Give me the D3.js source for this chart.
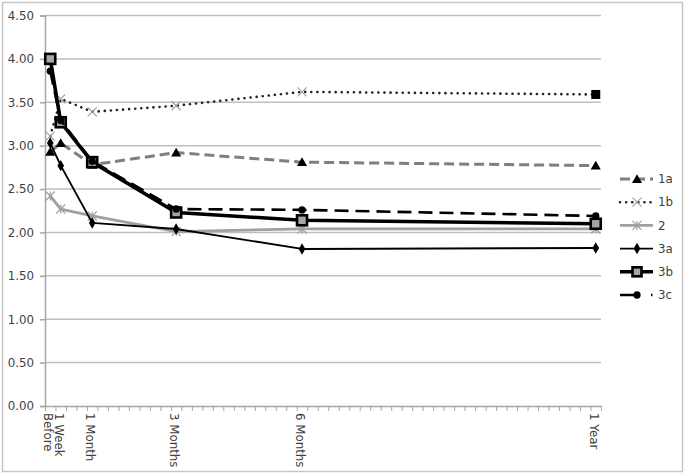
<!DOCTYPE html>
<html><head><meta charset="utf-8">
<script src="https://cdn.jsdelivr.net/npm/d3@7"></script>
<style>body{margin:0;background:#fff}svg{display:block}text{font-family:"DejaVu Sans",sans-serif;font-size:11.8px;fill:#404040}</style>
</head><body>
<svg id="c" width="685" height="474"></svg>
<script>
const categories = ["Before","1 Week","1 Month","3 Months","6 Months","1 Year"];
const weeks = [0, 1, 4, 12, 24, 52];
const s1a = [2.93, 3.03, 2.78, 2.92, 2.81, 2.77];
const s1b = [3.11, 3.54, 3.39, 3.46, 3.62, 3.59];
const s2  = [2.42, 2.27, 2.19, 2.01, 2.04, 2.04];
const s3a = [3.03, 2.77, 2.11, 2.04, 1.81, 1.82];
const s3b = [4.00, 3.27, 2.81, 2.23, 2.14, 2.10];
const s3c = [3.86, 3.29, 2.82, 2.27, 2.26, 2.19];
const seriesNames = ["1a","1b","2","3a","3b","3c"];
const yTicks = [0,0.5,1,1.5,2,2.5,3,3.5,4,4.5];

const seriesValues = [s1a, s1b, s2, s3a, s3b, s3c];
const styles = [
  {stroke:"#7f7f7f", width:3, dash:"10,5", marker:"triangle", mfill:"#000", mstroke:"none", msize:44},
  {stroke:"#262626", width:2.6, dash:"0.1,6", cap:"round", marker:"x", mfill:"none", mstroke:"#a0a0a0", msize:9, lastMarker:"square"},
  {stroke:"#a0a0a0", width:2.8, dash:null, marker:"star", mfill:"none", mstroke:"#a0a0a0", msize:9},
  {stroke:"#000", width:1.9, dash:null, marker:"diamond", mfill:"#000", mstroke:"none", msize:38},
  {stroke:"#000", width:3.6, dash:null, marker:"square", mfill:"#a6a6a6", mstroke:"#000", msize:10},
  {stroke:"#000", width:2.6, dash:"14,7", marker:"circle", mfill:"#000", mstroke:"none", msize:42}
];

const svg = d3.select("#c");
svg.append("rect").attr("x",2.5).attr("y",2.5).attr("width",680).attr("height",469)
  .attr("fill","#fff").attr("stroke","#c6c6c6").attr("stroke-width",1.5);

const x = d3.scaleLinear().domain([-0.5, 52.5]).range([45, 601]);
const y = d3.scaleLinear().domain([0, 4.5]).range([406, 15.5]);

svg.append("g").selectAll("line").data(yTicks.filter(d=>d>0)).join("line")
  .attr("x1",x(-0.5)).attr("x2",x(52.5)).attr("y1",d=>y(d)).attr("y2",d=>y(d))
  .attr("stroke","#bfbfbf").attr("stroke-width",1.5);

const yAxis = svg.append("g").attr("transform",`translate(${x(-0.5)},0)`)
  .call(d3.axisLeft(y).tickValues(yTicks).tickFormat(d3.format(".2f")).tickSize(5).tickPadding(6));
yAxis.select(".domain").attr("stroke","#a6a6a6").attr("stroke-width",1.5);
yAxis.selectAll(".tick line").attr("stroke","#a6a6a6").attr("stroke-width",1.5);
yAxis.selectAll("text").attr("font-family",null).attr("font-size",null).attr("fill","#404040");

const weekTicks = d3.range(-0.5, 53, 1);
const xAxis = svg.append("g").attr("transform",`translate(0,${y(0)})`)
  .call(d3.axisBottom(x).tickValues(weekTicks).tickFormat("").tickSize(5).tickSizeOuter(0));
xAxis.select(".domain").attr("stroke","#a6a6a6").attr("stroke-width",1.5);
xAxis.selectAll(".tick line").attr("stroke","#a6a6a6").attr("stroke-width",1);

svg.append("g").selectAll("text").data(categories).join("text")
  .attr("transform",(d,i)=>`translate(${x(weeks[i])-2},${y(0)+7}) rotate(90)`)
  .attr("dy","0.35em").attr("text-anchor","start").text(d=>d);

function drawMarker(g, type, st, cx, cy, size){
  if(type==="triangle"){
    g.append("path").attr("d",d3.symbol(d3.symbolTriangle, size)()).attr("transform",`translate(${cx},${cy+1})`).attr("fill",st.mfill);
  } else if(type==="diamond"){
    g.append("path").attr("d",d3.symbol(d3.symbolDiamond, size)()).attr("transform",`translate(${cx},${cy})`).attr("fill",st.mfill);
  } else if(type==="circle"){
    g.append("path").attr("d",d3.symbol(d3.symbolCircle, size)()).attr("transform",`translate(${cx},${cy})`).attr("fill",st.mfill);
  } else if(type==="x" || type==="star"){
    const h = size/2;
    let p = `M${cx-h},${cy-h}L${cx+h},${cy+h}M${cx-h},${cy+h}L${cx+h},${cy-h}`;
    if(type==="star") p += `M${cx},${cy-h}L${cx},${cy+h}`;
    g.append("path").attr("d",p).attr("stroke",st.mstroke).attr("stroke-width",1.2).attr("fill","none");
  } else if(type==="square"){
    if(st.marker==="square"){
      g.append("rect").attr("x",cx-size/2).attr("y",cy-size/2).attr("width",size).attr("height",size)
        .attr("fill",st.mfill).attr("stroke",st.mstroke).attr("stroke-width",2.6);
    } else {
      g.append("rect").attr("x",cx-4.5).attr("y",cy-4.5).attr("width",9).attr("height",9).attr("fill","#000");
    }
  }
}

const line = d3.line().x(d=>x(d[0])).y(d=>y(d[1]));
seriesValues.forEach((vals,si)=>{
  const st = styles[si];
  const g = svg.append("g");
  const pts = vals.map((v,i)=>[weeks[i], v]);
  g.append("path").attr("d",line(pts)).attr("fill","none").attr("stroke",st.stroke)
    .attr("stroke-width",st.width).attr("stroke-dasharray",st.dash)
    .attr("stroke-linecap",st.cap||"butt").attr("stroke-linejoin","round");
  pts.forEach((p,i)=>{
    const last = i===pts.length-1 && st.lastMarker;
    drawMarker(g, last ? st.lastMarker : st.marker, st, x(p[0]), y(p[1]), st.msize);
  });
});

const lg = svg.append("g");
seriesNames.forEach((n,i)=>{
  const st = styles[i];
  const ly = 179 + i*23.2;
  const g = lg.append("g");
  g.append("line").attr("x1",620).attr("x2",653).attr("y1",ly).attr("y2",ly)
    .attr("stroke",st.stroke).attr("stroke-width",st.width)
    .attr("stroke-dasharray", n==="3c" ? "18,13,1.5,20" : st.dash)
    .attr("stroke-linecap",st.cap||"butt");
  drawMarker(g, st.marker, st, 637, ly, st.marker==="square"?9:st.msize);
  g.append("text").attr("x",658).attr("y",ly).attr("dy","0.35em").text(n);
});
</script>
</body></html>
